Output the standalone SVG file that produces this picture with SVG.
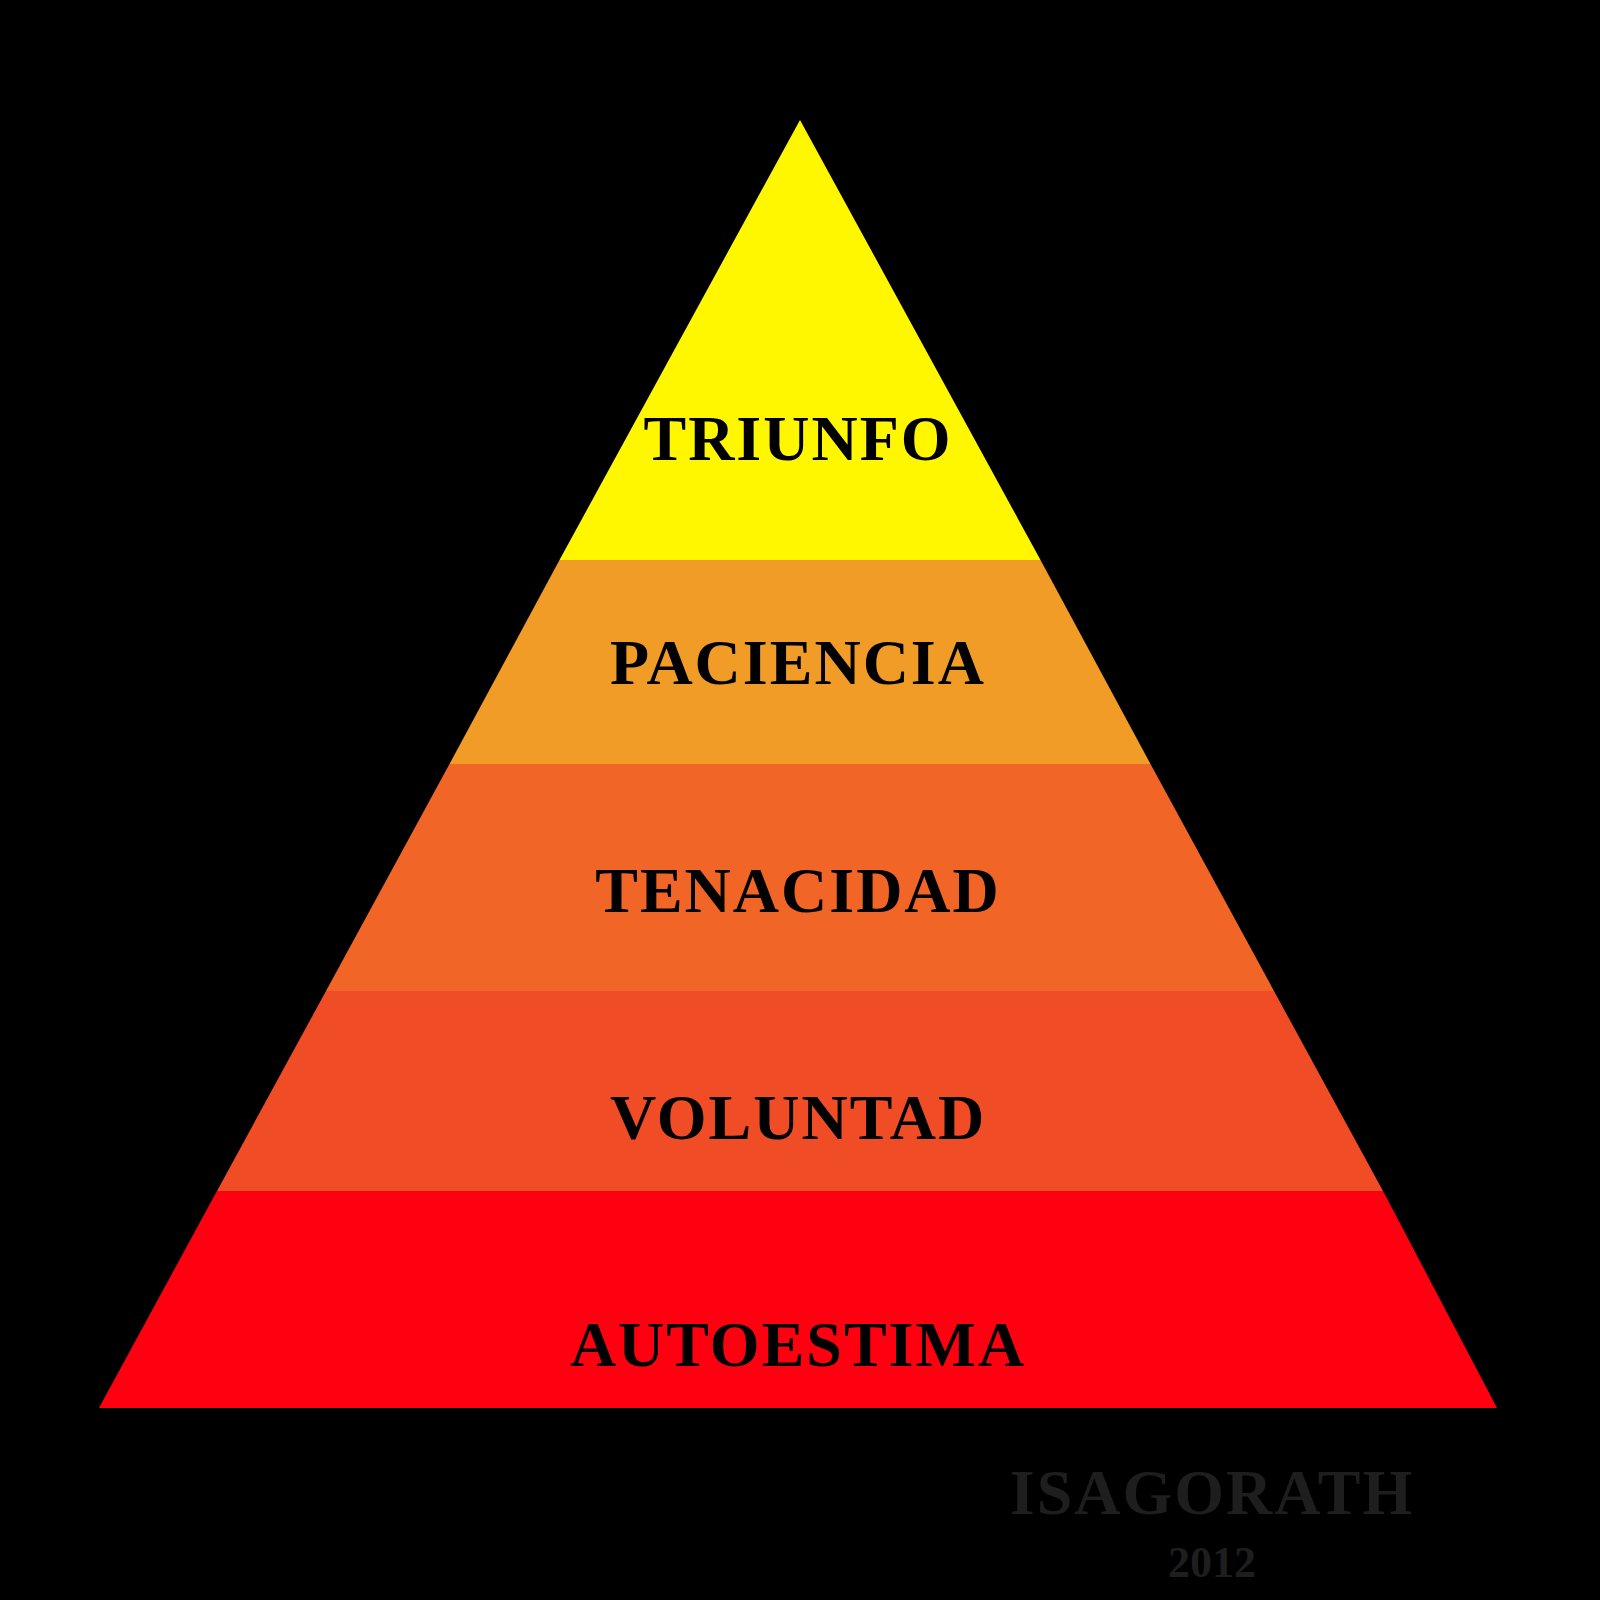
<svg xmlns="http://www.w3.org/2000/svg" width="1600" height="1600" viewBox="0 0 1600 1600">
<style>
.l{font-family:"Liberation Serif",serif;font-weight:bold;font-size:64px;fill:#000;text-anchor:middle;letter-spacing:2px}
.w{font-family:"Liberation Serif",serif;font-weight:bold;fill:#1e1e1e;text-anchor:middle}
</style>
<rect width="1600" height="1600" fill="#000"/>
<g id="triunfo"><polygon points="800,120 1040.5,560 559.5,560" fill="#FFF700"/><text class="l" x="798" y="460">TRIUNFO</text></g>
<g id="paciencia"><polygon points="559.5,560 1040.5,560 1150.5,764 449.5,764" fill="#F19C27"/><text class="l" x="798" y="684">PACIENCIA</text></g>
<g id="tenacidad"><polygon points="449.5,764 1150.5,764 1274,991 326,991" fill="#F16627"/><text class="l" x="798" y="912">TENACIDAD</text></g>
<g id="voluntad"><polygon points="326,991 1274,991 1383,1191 217,1191" fill="#F04D27"/><text class="l" x="798" y="1139">VOLUNTAD</text></g>
<g id="autoestima"><polygon points="217,1191 1383,1191 1497,1408 99,1408" fill="#FF0010"/><text class="l" x="798" y="1366">AUTOESTIMA</text></g>
<g id="connectors"/>
<text class="w" x="1212" y="1514" font-size="64" letter-spacing="2">ISAGORATH</text>
<text class="w" x="1212" y="1577" font-size="44">2012</text>
</svg>
